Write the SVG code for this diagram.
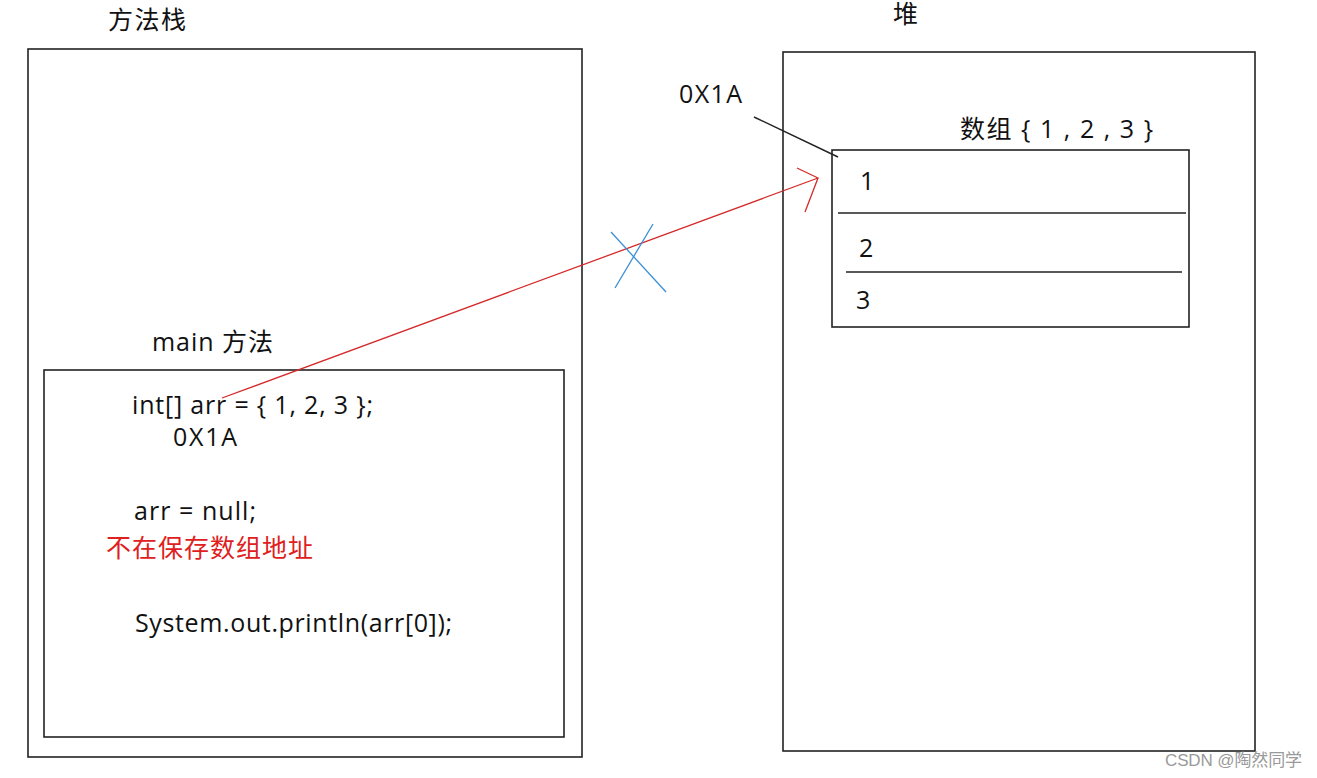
<svg xmlns="http://www.w3.org/2000/svg" width="1317" height="778" viewBox="0 0 1317 778">
<style>
.box{fill:none;stroke:#222;stroke-width:1.6}
.t{font-family:"Open Sans","Noto Sans CJK SC",sans-serif;font-size:25px;fill:#111}
.c{font-family:"Noto Sans CJK SC",sans-serif;font-size:25px;fill:#111}
.red{stroke:#d42a2a;stroke-width:1.3;fill:none}
.blue{stroke:#3b8fd4;stroke-width:1.3;fill:none}
</style>
<rect width="1317" height="778" fill="#fff"/>
<g id="stack">
<rect class="box" x="28" y="49" width="554" height="708"/>
<text class="c" x="108" y="29" textLength="78">方法栈</text>
</g>
<g id="main">
<rect class="box" x="44" y="370" width="520" height="367"/>
<text class="t" x="152" y="351" textLength="121">main <tspan font-family="Noto Sans CJK SC">方法</tspan></text>
<text class="t" x="132" y="414" textLength="241">int[] arr = { 1, 2, 3 };</text>
<text class="t" x="173" y="446" textLength="64">0X1A</text>
<text class="t" x="134" y="520" textLength="122">arr = null;</text>
<text class="c" x="106" y="557" style="fill:#e02020" textLength="207">不在保存数组地址</text>
<text class="t" x="135" y="632" textLength="317">System.out.println(arr[0]);</text>
</g>
<g id="heap">
<rect class="box" x="783" y="52" width="472" height="699"/>
<text class="c" x="893" y="23">堆</text>
</g>
<g id="array">
<text class="t" x="679" y="103" textLength="63">0X1A</text>
<text class="t" x="960" y="138" textLength="193"><tspan font-family="Noto Sans CJK SC">数组</tspan> { 1 , 2 , 3 }</text>
<rect class="box" x="832" y="150" width="357" height="177"/>
<line class="box" x1="838" y1="213" x2="1186" y2="213"/>
<line class="box" x1="846" y1="272" x2="1182" y2="272"/>
<text class="t" x="860" y="190">1</text>
<text class="t" x="859" y="257">2</text>
<text class="t" x="856" y="309">3</text>
</g>
<g id="connectors">
<line x1="754" y1="117" x2="838" y2="157" stroke="#222" stroke-width="1.4"/>
<line class="red" x1="222" y1="398" x2="818" y2="178"/>
<polyline class="red" points="797,168 818,178 805,212"/>
<line class="blue" x1="611" y1="232" x2="666" y2="292"/>
<line class="blue" x1="653" y1="224" x2="615" y2="288"/>
</g>
<text x="1165" y="766" font-family="Liberation Sans,'Noto Sans CJK SC',sans-serif" font-size="17" fill="#9a9a9a" textLength="137">CSDN @陶然同学</text>
</svg>
